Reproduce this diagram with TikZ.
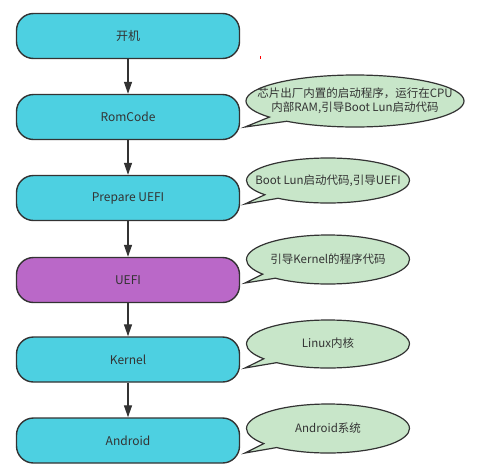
\documentclass[tikz,border=0pt]{standalone}
\usepackage{fontspec}
\setmainfont{Noto Sans CJK SC}
\usetikzlibrary{arrows.meta,shapes.callouts}
\definecolor{boxcyan}{HTML}{4DD0E1}
\definecolor{boxpurple}{HTML}{BA68C8}
\definecolor{notegreen}{HTML}{C8E6C9}
\definecolor{inkgray}{HTML}{333333}
\begin{document}
\begin{tikzpicture}[x=1pt,y=-1pt,
  stepbox/.style={draw=inkgray,line width=1.4pt,rounded corners=17pt,minimum width=223pt,minimum height=45pt,inner sep=0pt,text=inkgray,font=\fontsize{12}{14}\selectfont},
  cyanbox/.style={stepbox,fill=boxcyan},
  purplebox/.style={stepbox,fill=boxpurple},
  note/.style={ellipse callout,draw=inkgray,line width=1.2pt,fill=notegreen,inner sep=0pt,callout pointer arc=13},
  notetext/.style={text=inkgray,font=\fontsize{11.5}{14}\selectfont,align=center,inner sep=0pt},
  flow/.style={draw=inkgray,line width=1.3pt,-{Triangle[length=12pt,width=8pt]}}]
\useasboundingbox (0,0) rectangle (486,474);
\fill[white] (0,0) rectangle (486,474);
% main boxes
\node[cyanbox] (b1) at (128,36) {开机};
\node[cyanbox] (b2) at (128,117) {RomCode};
\node[cyanbox] (b3) at (128,198) {Prepare UEFI};
\node[purplebox] (b4) at (128,280) {UEFI};
\node[cyanbox] (b5) at (128,359.5) {Kernel};
\node[cyanbox] (b6) at (128,440.5) {Android};
% arrows
\draw[flow] (b1) -- (b2);
\draw[flow] (b2) -- (b3);
\draw[flow] (b3) -- (b4);
\draw[flow] (b4) -- (b5);
\draw[flow] (b5) -- (b6);
% tail tips
\coordinate (t2) at (245,127);
\coordinate (t3) at (245,204);
\coordinate (t4) at (245,283);
\coordinate (t5) at (245,368);
\coordinate (t6) at (245,453);
% callouts
\node[note,minimum width=218pt,minimum height=52pt,callout absolute pointer={(t2)}] (c2) at (355,101) {};
\node[note,minimum width=163pt,minimum height=45pt,callout absolute pointer={(t3)}] (c3) at (328,180.5) {};
\node[note,minimum width=163pt,minimum height=49pt,callout absolute pointer={(t4)}] (c4) at (328,259.5) {};
\node[note,minimum width=163pt,minimum height=48pt,callout absolute pointer={(t5)}] (c5) at (328,344) {};
\node[note,minimum width=163pt,minimum height=49pt,callout absolute pointer={(t6)}] (c6) at (328,428.5) {};
\node[notetext] (n2) at (355,101) {芯片出厂内置的启动程序，运行在CPU\\内部RAM,引导Boot Lun启动代码};
\node[notetext] (n3) at (328,180.5) {Boot Lun启动代码,引导UEFI};
\node[notetext] (n4) at (328,259.5) {引导Kernel的程序代码};
\node[notetext] (n5) at (328,343) {Linux内核};
\node[notetext] (n6) at (328,428.5) {Android系统};
% small red mark
\fill[red] (259.5,55.5) rectangle (261,58.5);
\end{tikzpicture}
\end{document}
